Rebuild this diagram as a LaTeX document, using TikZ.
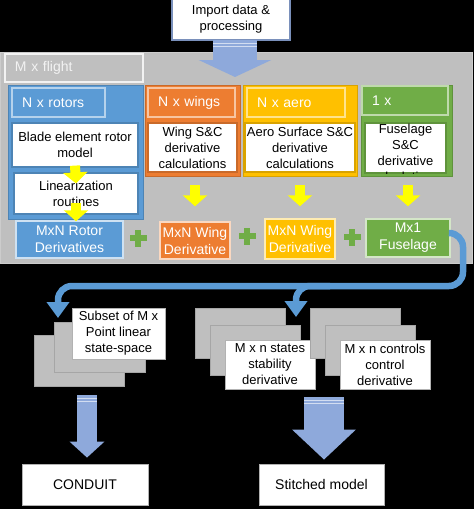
\documentclass[tikz,border=0pt]{standalone}
\usepackage{fontspec}
\setmainfont{Liberation Sans}
\usetikzlibrary{arrows.meta, calc}
\definecolor{importblue}{HTML}{8FAADC}
\definecolor{panelgray}{HTML}{BFBFBF}
\definecolor{rotorblue}{HTML}{5B9BD5}
\definecolor{wingorange}{HTML}{ED7D31}
\definecolor{aeroamber}{HTML}{FFC000}
\definecolor{fusegreen}{HTML}{70AD47}
\definecolor{arrowyellow}{HTML}{FFFF00}
\definecolor{arrowblue}{HTML}{8EA9DB}
\newcommand\cornerbox[7]{% name, x1, y1, x2, y2, style, text
  \pgfmathsetmacro\bxw{#4-#2}
  \pgfmathsetmacro\bxh{#5-#3}
  \pgfmathsetmacro\bxt{#4-#2-20}
  \node[#6, minimum width=\bxw pt, minimum height=\bxh pt] (#1) at ({(#2+#4)/2},{(#3+#5)/2}) {#7};
}

\begin{document}
\begin{tikzpicture}[x=1pt, y=-1pt, font=\fontsize{13}{16}\selectfont,
    colbox/.style={fill=#1, draw=#1!85!black, line width=0.8pt},
    hdr/.style={fill=#1, draw=white!55!#1, line width=1.5pt, text=white, align=left,
      text width=\bxt pt, inner xsep=10pt, inner ysep=0pt, font=\fontsize{14}{16}\selectfont},
    wbox/.style={fill=white, draw=#1!85!black, line width=1.2pt, align=center, inner sep=1pt},
    derbox/.style={fill=#1, draw=white!70!#1, line width=1.5pt, text=white, align=center, inner sep=0pt,
      font=\fontsize{14}{17}\selectfont},
    stackbox/.style={fill=panelgray, draw=gray!70, line width=0.6pt},
    frontbox/.style={fill=white, draw=gray!60, line width=0.6pt, align=center, inner sep=1pt},
    endbox/.style={fill=white, draw=gray!60, line width=0.8pt, align=center, font=\fontsize{14}{16}\selectfont},
    yarrow/.style={draw=arrowyellow, line width=10pt, -{Triangle[width=24pt,length=11pt]}},
    bigarrow/.style={draw=arrowblue, line width=#1},
    conn/.style={draw=rotorblue, line width=6.5pt, rounded corners=14pt, -{Triangle[width=22pt,length=16pt]}}]
  \fill[black] (0,0) rectangle (474,509);
  \useasboundingbox (0,0) rectangle (474,509);
  % input and flight panel
  \cornerbox{import}{172}{-2}{290}{40}{wbox=importblue}{Import data \&\\processing}
  \cornerbox{panel}{0}{52}{472}{263}{fill=panelgray, draw=gray!40}{}
  \cornerbox{flight}{5}{54}{143}{82}{hdr=panelgray, draw=white!95!black, text=white!95!black}{M x flight}
  \coordinate (inTail) at (235,40);
  \coordinate (inTip) at (235,77);
  \draw[bigarrow=44pt, -{Triangle[width=72pt,length=17pt]}] (inTail) -- (inTip);
  % rotors
  \cornerbox{rotorcol}{8}{85}{143}{219}{colbox=rotorblue}{}
  \cornerbox{rotorhdr}{12}{88}{105}{117}{hdr=rotorblue}{N x rotors}
  \cornerbox{blade}{12}{123}{138}{167}{wbox=rotorblue}{Blade element rotor\\model}
  \cornerbox{lin}{14}{173}{138}{214}{wbox=rotorblue}{Linearization\\routines}
  \cornerbox{rotorder}{16}{221}{123}{258}{derbox=rotorblue}{MxN Rotor\\Derivatives}
  % wings
  \cornerbox{wingcol}{145}{85}{240}{176}{colbox=wingorange}{}
  \cornerbox{winghdr}{148}{88}{235}{117}{hdr=wingorange}{N x wings}
  \cornerbox{wingcalc}{148}{123}{237}{172}{wbox=wingorange}{Wing S\&C\\derivative\\calculations}
  \cornerbox{wingder}{160}{222}{230}{259}{derbox=wingorange}{MxN Wing\\Derivative}
  % aero surfaces
  \cornerbox{aerocol}{243}{85}{357}{176}{colbox=aeroamber}{}
  \cornerbox{aerohdr}{247}{88}{345}{117}{hdr=aeroamber}{N x aero}
  \cornerbox{aerocalc}{245}{123}{355}{172}{wbox=aeroamber}{Aero Surface S\&C\\derivative\\calculations}
  \cornerbox{aeroder}{265}{219}{335}{259}{derbox=aeroamber}{MxN Wing\\Derivative}
  % fuselage
  \cornerbox{fusecol}{361}{85}{452}{176}{colbox=fusegreen}{}
  \cornerbox{fusehdr}{362}{86}{448}{115}{hdr=fusegreen}{1 x}
  \cornerbox{fusecalc}{365}{123}{446}{173}{wbox=fusegreen}{}
  \begin{scope}
    \clip (fusecalc.south west) rectangle (fusecalc.north east);
    \node[anchor=north, align=center, inner sep=0pt] (fusetext) at ([yshift=-1pt]fusecalc.north)
      {Fuselage\\S\&C\\derivative\\calculations};
  \end{scope}
  \cornerbox{fuseder}{366}{219}{450}{257}{derbox=fusegreen}{Mx1\\Fuselage}
  % yellow arrows
  \draw[yarrow] ([yshift=2pt]blade.south) -- ([yshift=-11pt]lin.north);
  \draw[yarrow] ([yshift=12pt]lin.south) -- ($(rotorder.north -| lin.south)+(0,1)$);
  \foreach \nm/\dy in {wingder/3, aeroder/0, fuseder/0}
    \draw[yarrow] ($(\nm.north)+(0,-33-\dy)$) -- ($(\nm.north)+(0,-12-\dy)$);
  \foreach \px/\py in {138/238, 247/236, 352/237}{
    \fill[fusegreen] (\px-8.5,\py-3) rectangle (\px+8.5,\py+3);
    \fill[fusegreen] (\px-3,\py-8.5) rectangle (\px+3,\py+8.5);
  }
  % stacks
  \cornerbox{ssback}{34}{335}{124}{386}{stackbox}{}
  \cornerbox{ssmid}{54}{322}{145}{372}{stackbox}{}
  \cornerbox{ssfront}{72}{308}{165}{359}{frontbox}{Subset of M x\\Point linear\\state-space}
  \cornerbox{stback}{195}{308}{285}{358}{stackbox}{}
  \cornerbox{stmid}{210}{325}{300}{375}{stackbox}{}
  \cornerbox{stfront}{225}{340}{315}{389}{frontbox}{M x n states\\stability\\derivative}
  \cornerbox{ctback}{310}{308}{400}{358}{stackbox}{}
  \cornerbox{ctmid}{325}{325}{415}{375}{stackbox}{}
  \cornerbox{ctfront}{340}{340}{430}{389}{frontbox}{M x n controls\\control\\derivative}
  % derivative flow
  \coordinate (ssTip) at (58,318);
  \coordinate (stTip) at (296,317);
  \draw[conn] ([yshift=5pt]fuseder.east) -| (463,286) -| (ssTip);
  \draw[conn] (330,286) -| (stTip);
  % outputs
  \cornerbox{conduit}{22}{464}{148}{505}{endbox}{CONDUIT}
  \cornerbox{stitched}{259}{464}{384}{505}{endbox}{Stitched model}
  \coordinate (ssTail) at (87,395);
  \coordinate (stTail) at (324,397);
  \draw[bigarrow=20pt, -{Triangle[width=34pt,length=16pt]}] (ssTail) -- ([xshift=2pt,yshift=6pt]conduit.north);
  \draw[bigarrow=40pt, -{Triangle[width=62pt,length=30pt]}] (stTail) -- ([xshift=2.5pt,yshift=4pt]stitched.north);
  \foreach \tl/\hw in {inTail/22, ssTail/10, stTail/20}
    \foreach \d in {3,6}
      \draw[white!60!arrowblue, line width=0.8pt] ($(\tl)+(-\hw,\d)$) -- ++(2*\hw,0);
\end{tikzpicture}
\end{document}
